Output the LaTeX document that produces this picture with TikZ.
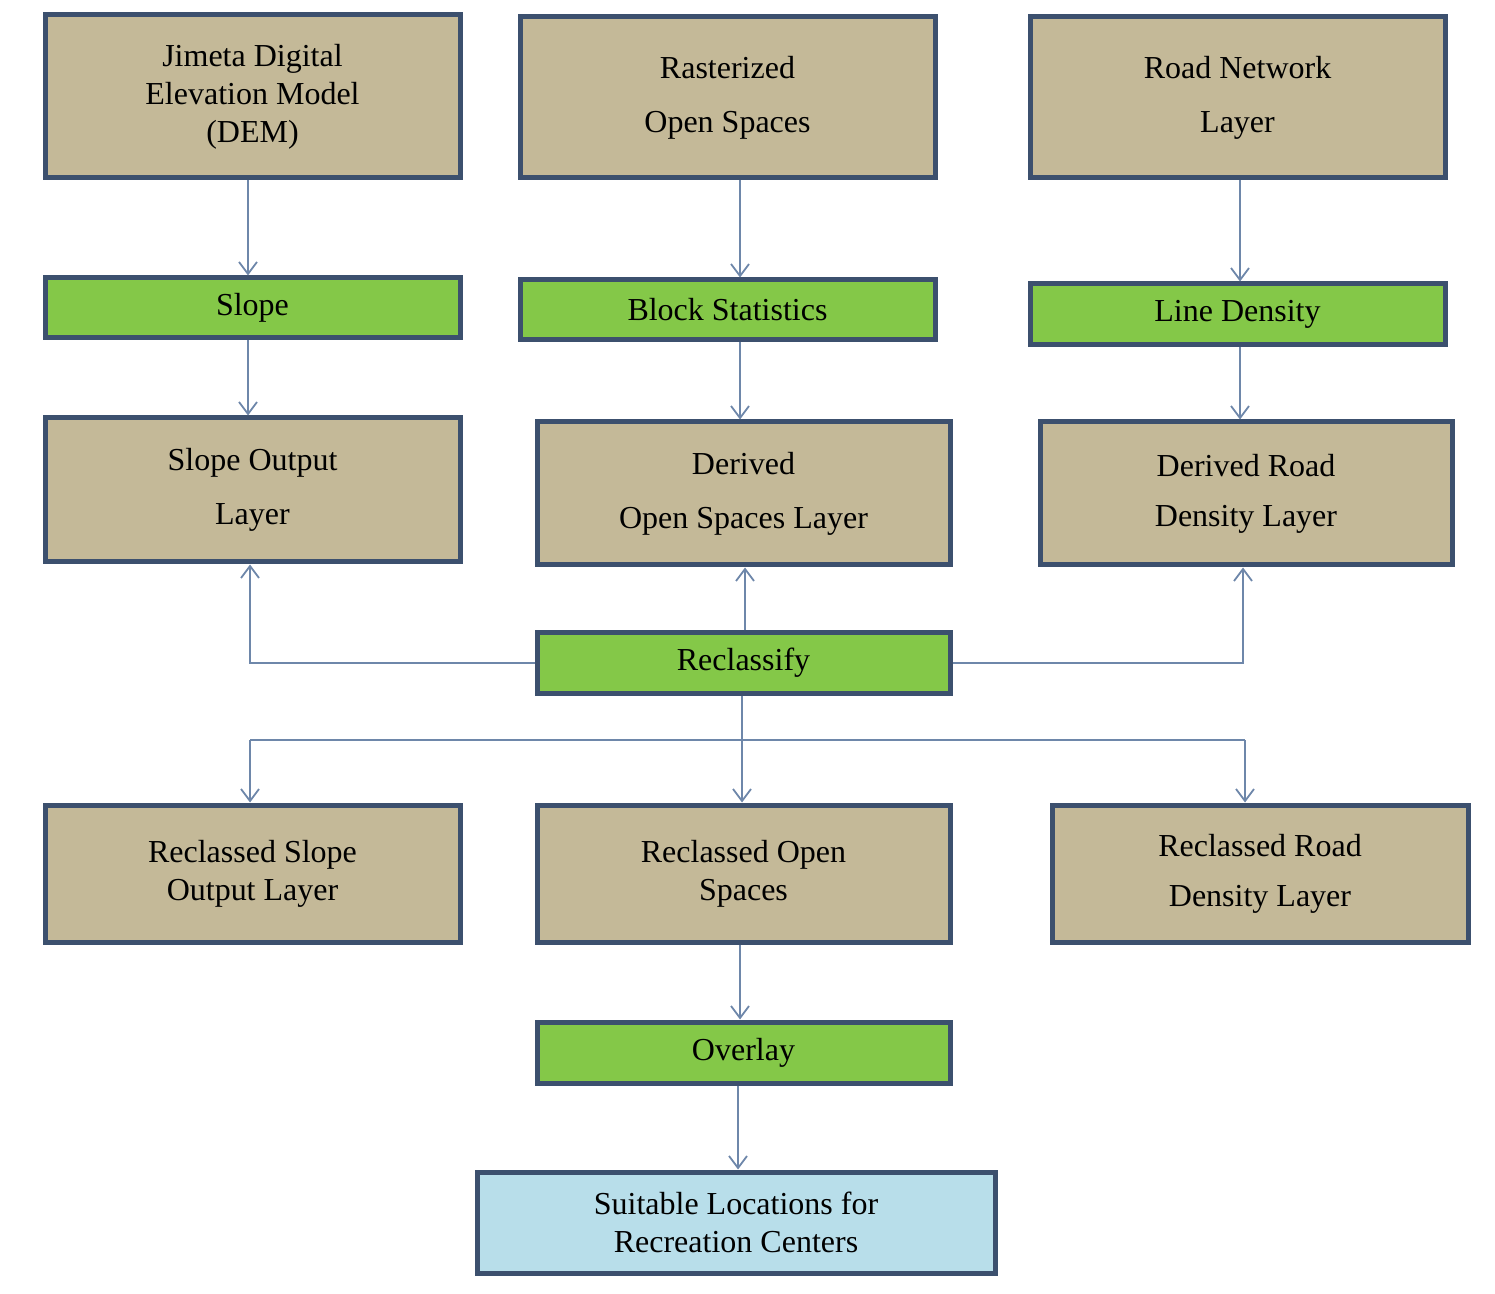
\documentclass[tikz,border=0pt]{standalone}
\usepackage{fontspec}
\setmainfont{Liberation Serif}
\usetikzlibrary{arrows.meta}
\definecolor{tanc}{RGB}{196,185,152}
\definecolor{grn}{RGB}{132,200,72}
\definecolor{blu}{RGB}{184,222,234}
\definecolor{bord}{RGB}{60,80,110}
\definecolor{arr}{RGB}{110,135,170}
\begin{document}
\begin{tikzpicture}[x=0.5pt,y=-0.5pt,
 bx/.style={draw=bord,line width=2.5pt,font=\fontsize{16}{19}\selectfont,align=center,inner sep=0pt},
 ar/.style={draw=arr,line width=0.9pt,-{Straight Barb[length=6pt,width=9pt]}},
 ln/.style={draw=arr,line width=0.9pt}]
\useasboundingbox (0,0) rectangle (1495,1294);
\newcommand\bxx[7]{\node[bx,fill=#6,minimum width={(#3-#2)*0.5pt},minimum height={(#5-#4)*0.5pt}] (#1) at ({(#2+#3)/2},{(#4+#5)/2}) {#7};}
\bxx{dem}{45}{460}{15}{178}{tanc}{Jimeta Digital\\Elevation Model\\(DEM)}
\bxx{ras}{520}{935}{17}{178}{tanc}{Rasterized\\[8pt]Open Spaces}
\bxx{rn}{1030}{1445}{17}{178}{tanc}{Road Network\\[8pt]Layer}
\bxx{sl}{45}{460}{278}{338}{grn}{Slope}
\bxx{bs}{520}{935}{280}{340}{grn}{Block Statistics}
\bxx{ld}{1030}{1445}{284}{345}{grn}{Line Density}
\bxx{so}{45}{460}{418}{562}{tanc}{Slope Output\\[8pt]Layer}
\bxx{do}{537}{950}{422}{565}{tanc}{Derived\\[8pt]Open Spaces Layer}
\bxx{dr}{1040}{1452}{422}{565}{tanc}{Derived Road\\[6pt]Density Layer}
\bxx{rc}{537}{950}{633}{693}{grn}{Reclassify}
\bxx{rs}{45}{460}{805}{942}{tanc}{Reclassed Slope\\Output Layer}
\bxx{ro}{537}{950}{805}{942}{tanc}{Reclassed Open\\Spaces}
\bxx{rr}{1052}{1468}{805}{942}{tanc}{Reclassed Road\\[6pt]Density Layer}
\bxx{ov}{537}{950}{1022}{1083}{grn}{Overlay}
\bxx{su}{477}{995}{1172}{1273}{blu}{Suitable Locations for\\Recreation Centers}
\draw[ar] (dem.south -| 248,0) -- (sl.north -| 248,0);
\draw[ar] (sl.south -| 248,0) -- (so.north -| 248,0);
\draw[ar] (ras.south -| 740,0) -- (bs.north -| 740,0);
\draw[ar] (bs.south -| 740,0) -- (do.north -| 740,0);
\draw[ar] (rn.south -| 1240,0) -- (ld.north -| 1240,0);
\draw[ar] (ld.south -| 1240,0) -- (dr.north -| 1240,0);
\draw[ar] (rc.west) -- (250,663) -- (so.south -| 250,0);
\draw[ar] (rc.east) -- (1243,663) -- (dr.south -| 1243,0);
\draw[ar] (rc.north -| 745,0) -- (do.south -| 745,0);
\coordinate (j) at (742,740);
\draw[ln] (rc.south -| 742,0) -- (j);
\draw[ln] (250,740) -- (1245,740);
\draw[ar] (250,740) -- (rs.north -| 250,0);
\draw[ar] (j) -- (ro.north -| 742,0);
\draw[ar] (1245,740) -- (rr.north -| 1245,0);
\draw[ar] (ro.south -| 740,0) -- (ov.north -| 740,0);
\draw[ar] (ov.south -| 738,0) -- (su.north -| 738,0);
\end{tikzpicture}
\end{document}
